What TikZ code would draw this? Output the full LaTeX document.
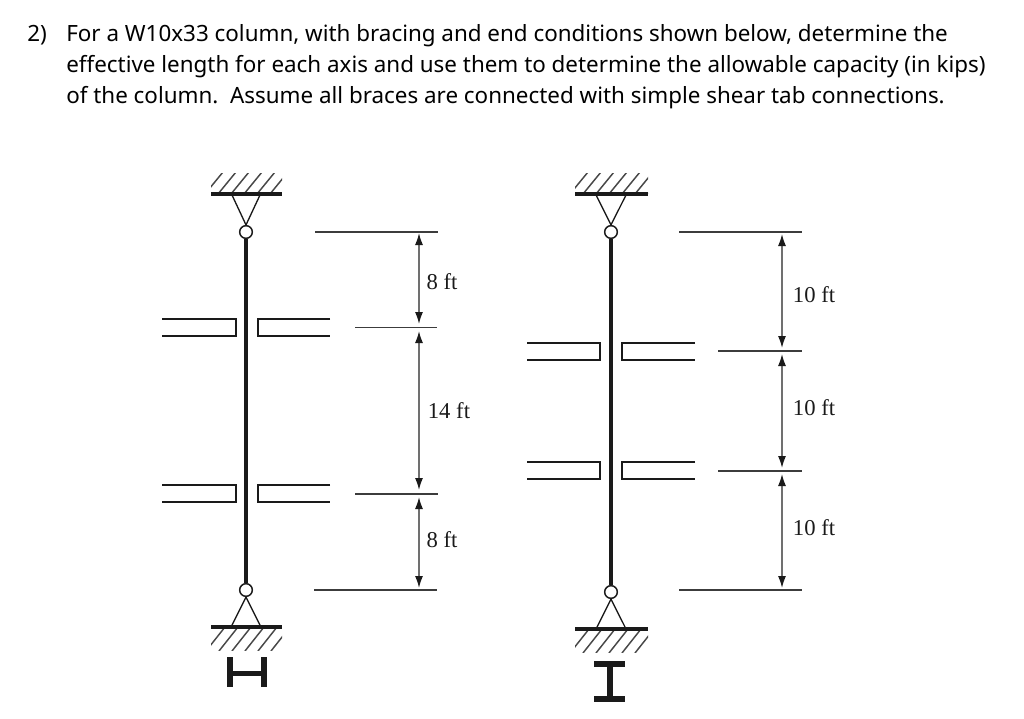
\documentclass[tikz,border=0pt]{standalone}
\usepackage{fontspec}
\setmainfont{Liberation Serif}
\newfontfamily\qfont{Noto Sans}
\usetikzlibrary{arrows.meta}
\definecolor{ink}{HTML}{1A1A1A}
\definecolor{dimgr}{HTML}{707070}
\tikzset{
  pin/.style={circle,draw=ink,line width=1.1pt,fill=white,minimum size=9.5pt,inner sep=0pt},
  column/.style={draw=ink,line width=2.9pt},
  plate/.style={draw=ink,line width=2.5pt},
  strut/.style={draw=ink,line width=1pt},
  hatch/.style={draw=ink!80,line width=1.1pt},
  brace/.style={draw=ink,line width=1.9pt},
  extline/.style={draw=ink!85,line width=0.9pt},
  dimline/.style={draw=dimgr,line width=1.1pt,{Latex[length=9pt,width=6pt,color=ink]}-{Latex[length=9pt,width=6pt,color=ink]}},
  dimlabel/.style={inner sep=0pt,text=ink,font=\fontsize{17}{20}\selectfont},
  qline/.style={anchor=base west,inner sep=0pt,text=black,font=\qfont\fontsize{16.8}{20}\selectfont},
  section/.style={draw=ink,line width=4.4pt}
}
\begin{document}
\begin{tikzpicture}[x=0.75pt,y=-0.75pt]
\useasboundingbox (0,0) rectangle (1024,718);
\node[qline] (qnum) at (27,41) {2)};
\node[qline] (q1) at (66,41) {For a W10x33 column, with bracing and end conditions shown below, determine the};
\node[qline] (q2) at (66,72) {effective length for each axis and use them to determine the allowable capacity (in kips)};
\node[qline] (q3) at (66,103) {of the column.\ \ Assume all braces are connected with simple shear tab connections.};

% left column
\node[pin] (atop) at (246,232) {};
\node[pin] (abot) at (246,590) {};
\draw[column] (atop) -- (abot);
\coordinate (apt1) at (211,194); \coordinate (apt2) at (282,194);
\coordinate (apb1) at (211,627); \coordinate (apb2) at (282,627);
\begin{scope}
  \clip (211,173) rectangle (282,193);
  \foreach \x in {205,218,231,244,257,270,283}
    \draw[hatch] (\x,194) -- (\x+18,172);
\end{scope}
\begin{scope}
  \clip (211,628) rectangle (282,650);
  \foreach \x in {225,238,251,264,277,290}
    \draw[hatch] (\x,627) -- (\x-19,651);
\end{scope}
\draw[plate] (apt1) -- (apt2);
\draw[plate] (apb1) -- (apb2);
\draw[strut] (232,195) -- (atop.north) -- (260,195);
\draw[strut] (231,627) -- (abot.south) -- (261,627);
\draw[brace] (162,319) -- (236,319) -- (236,336) -- (162,336);
\draw[brace] (330,319) -- (258,319) -- (258,336) -- (330,336);
\draw[brace] (162,485) -- (236,485) -- (236,502) -- (162,502);
\draw[brace] (330,485) -- (258,485) -- (258,502) -- (330,502);
\draw[section] (230,657) -- (230,687);
\draw[section] (264,657) -- (264,687);
\draw[section] (230,673.5) -- (264,673.5);

% left dimensions
\coordinate (ae1) at (315,232); \coordinate (ae1r) at (438,232);
\coordinate (ae2) at (355,327.5); \coordinate (ae2r) at (437,327.5);
\coordinate (ae3) at (355,494); \coordinate (ae3r) at (438,494);
\coordinate (ae4) at (314,590); \coordinate (ae4r) at (437,590);
\draw[extline] (ae1) -- (ae1r);
\draw[extline] (ae2) -- (ae2r);
\draw[extline] (ae3) -- (ae3r);
\draw[extline] (ae4) -- (ae4r);
\coordinate (ad1) at (419,233); \coordinate (ad2) at (419,324); \coordinate (ad2b) at (419,331);
\coordinate (ad3) at (419,490); \coordinate (ad3b) at (419,497); \coordinate (ad4) at (419,588);
\draw[dimline] (ad1) -- (ad2);
\draw[dimline] (ad2b) -- (ad3);
\draw[dimline] (ad3b) -- (ad4);
\node[dimlabel] (al1) at (442,282) {8 ft};
\node[dimlabel] (al2) at (449,411) {14 ft};
\node[dimlabel] (al3) at (442,540) {8 ft};

% right column
\node[pin] (btop) at (611,232) {};
\node[pin] (bbot) at (611,592) {};
\draw[column] (btop) -- (bbot);
\coordinate (bpt1) at (575,194); \coordinate (bpt2) at (648,194);
\coordinate (bpb1) at (575,629); \coordinate (bpb2) at (648,629);
\begin{scope}
  \clip (575,173) rectangle (648,193);
  \foreach \x in {570,583,596,609,622,635,648}
    \draw[hatch] (\x,194) -- (\x+18,172);
\end{scope}
\begin{scope}
  \clip (575,630) rectangle (648,652);
  \foreach \x in {589,602,615,628,641,654}
    \draw[hatch] (\x,629) -- (\x-19,653);
\end{scope}
\draw[plate] (bpt1) -- (bpt2);
\draw[plate] (bpb1) -- (bpb2);
\draw[strut] (596,195) -- (btop.north) -- (626,195);
\draw[strut] (596,629) -- (bbot.south) -- (626,629);
\draw[brace] (527,343) -- (600,343) -- (600,360) -- (527,360);
\draw[brace] (695,343) -- (622,343) -- (622,360) -- (695,360);
\draw[brace] (527,462) -- (600,462) -- (600,479) -- (527,479);
\draw[brace] (695,462) -- (622,462) -- (622,479) -- (695,479);
\draw[section] (594,664) -- (625,664);
\draw[section] (594,699) -- (625,699);
\draw[section] (610,664) -- (610,699);

% right dimensions
\coordinate (be1) at (679,232); \coordinate (be1r) at (802,232);
\coordinate (be2) at (718,351); \coordinate (be2r) at (802,351);
\coordinate (be3) at (718,471); \coordinate (be3r) at (802,471);
\coordinate (be4) at (679,590); \coordinate (be4r) at (802,590);
\draw[extline] (be1) -- (be1r);
\draw[extline] (be2) -- (be2r);
\draw[extline] (be3) -- (be3r);
\draw[extline] (be4) -- (be4r);
\coordinate (bd1) at (782,234); \coordinate (bd2) at (782,348); \coordinate (bd2b) at (782,354);
\coordinate (bd3) at (782,468); \coordinate (bd3b) at (782,474); \coordinate (bd4) at (782,588);
\draw[dimline] (bd1) -- (bd2);
\draw[dimline] (bd2b) -- (bd3);
\draw[dimline] (bd3b) -- (bd4);
\node[dimlabel] (bl1) at (814,295) {10 ft};
\node[dimlabel] (bl2) at (814,408) {10 ft};
\node[dimlabel] (bl3) at (814,528) {10 ft};
\end{tikzpicture}
\end{document}
